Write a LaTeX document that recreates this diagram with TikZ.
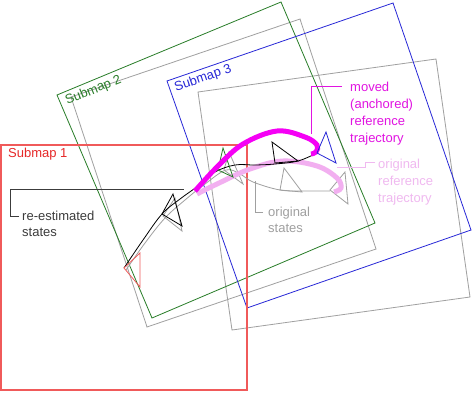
\documentclass[tikz,border=0pt]{standalone}
\usepackage{fontspec}
\setmainfont{Liberation Sans}
\definecolor{cred}{RGB}{240,90,90}
\definecolor{credtxt}{RGB}{230,40,40}
\definecolor{cgreen}{RGB}{40,125,40}
\definecolor{cblue}{RGB}{40,40,215}
\definecolor{cgray}{RGB}{160,160,160}
\definecolor{cmag}{RGB}{245,0,245}
\definecolor{cmagtxt}{RGB}{225,20,225}
\definecolor{cpink}{RGB}{242,175,240}
\definecolor{cpinktxt}{RGB}{240,185,240}
\definecolor{cdark}{RGB}{60,60,60}
\begin{document}
\begin{tikzpicture}[x=1pt,y=-1pt,
  rect/.style={line width=0.8pt},
  lbl/.style={inner sep=0pt, anchor=north west, align=left, font=\fontsize{13}{16}\selectfont},
  lbltall/.style={inner sep=0pt, anchor=north west, align=left, font=\fontsize{13}{17}\selectfont},
  rotlbl/.style={inner sep=0pt, font=\fontsize{13}{16}\selectfont},
  tri/.style={line width=0.8pt, line join=miter},
  traj/.style={line width=0.8pt},
  thick traj/.style={line width=5pt},
  leader/.style={line width=0.8pt}]
\useasboundingbox (0,0) rectangle (474,407);
\fill[white] (0,0) rectangle (474,407);

% submap rectangles
\draw[rect, cgray] (71,97) -- (300,19) -- (376,249) -- (147,327) -- cycle;
\draw[rect, cgray] (198,92) -- (436,59) -- (470,297) -- (232,330) -- cycle;
\draw[rect, cgreen] (57,95) -- (281,2) -- (375,223) -- (152,318) -- cycle;
\draw[rect, cblue] (167,81) -- (393,3) -- (471,230) -- (247,308) -- cycle;
\draw[line width=1.3pt, cred] (1,145) rectangle (247,390);

% submap labels
\node[lbl, text=credtxt] (s1) at (8,148) {Submap 1};
\node[rotlbl, text=cgreen, rotate=22.5] (s2) at (93.5,90.5) {Submap 2};
\node[rotlbl, text=cblue, rotate=19] (s3) at (203,78.5) {Submap 3};

% original (gray) trajectory and states
\draw[traj, cgray] plot[smooth, tension=0.6] coordinates {(126,270) (145,243) (165,218) (185,200) (205,184) (226,170) (240,174) (253,182) (280,190) (305,191) (330,191)};
\draw[tri, cgray] (163,216) -- (175,198) -- (182,231) -- cycle;
\draw[tri, cgray] (224,170) -- (229,152) -- (243,184) -- cycle;
\draw[tri, cgray] (280,190) -- (284,168) -- (302,192) -- cycle;
\draw[tri, cgray] (330,190) -- (345,172) -- (348,204) -- cycle;

% original reference trajectory
\draw[thick traj, cpink] plot[smooth, tension=0.6] coordinates {(197,194) (217,184) (250,169) (283,161) (317,166) (337,178) (341,188) (334,192)};

% re-estimated (black) trajectory and states
\draw[traj, black] plot[smooth, tension=0.6] coordinates {(124,268) (143,240) (162,214) (180,199) (198,186) (215,172) (235,165) (255,165) (275,164) (298,161) (317,153)};
\draw[tri, black] (162,214) -- (173,194) -- (182,226) -- cycle;
\draw[tri, black] (272,142) -- (298,161) -- (275,163) -- cycle;
\draw[tri, cgreen] (223,148) -- (218,170) -- (233,177) -- cycle;

% moved reference trajectory
\draw[thick traj, cmag] plot[smooth, tension=0.6] coordinates {(195,191) (217,167) (243,144) (277,131) (305,137) (317,145) (316,152) (311,154)};

\draw[tri, cblue] (317,153) -- (326,132) -- (336,163) -- cycle;
\draw[tri, cred] (124,268) -- (140,253) -- (140,287) -- cycle;

% labels with leaders
\node[lbl, text=cdark] (reest) at (22,211) {re-estimated\\states};
\coordinate (reestEnd) at (184,189);
\draw[leader, cdark] ([shift={(-3pt,-5pt)}]reest.north west) -- (10,216) |- (reestEnd);

\node[lbl, text=cgray] (orig) at (268,207) {original\\states};
\coordinate (origEnd) at (255,181);
\draw[leader, cgray] ([shift={(-5pt,-5pt)}]orig.north west) -| (origEnd);

\node[lbltall, text=cmagtxt] (moved) at (350,82) {moved\\(anchored)\\reference\\trajectory};
\coordinate (movedEnd) at (311,134);
\draw[leader, cmagtxt] ([shift={(-8pt,-4pt)}]moved.north west) -| (movedEnd);

\node[lbltall, text=cpinktxt] (origref) at (378,159) {original\\reference\\trajectory};
\coordinate (origrefEnd) at (337,167);
\coordinate (origrefBend) at (365,162);
\draw[leader, cpinktxt] ([shift={(-3pt,-3pt)}]origref.north west) -- (origrefBend) |- (origrefEnd);
\end{tikzpicture}
\end{document}
